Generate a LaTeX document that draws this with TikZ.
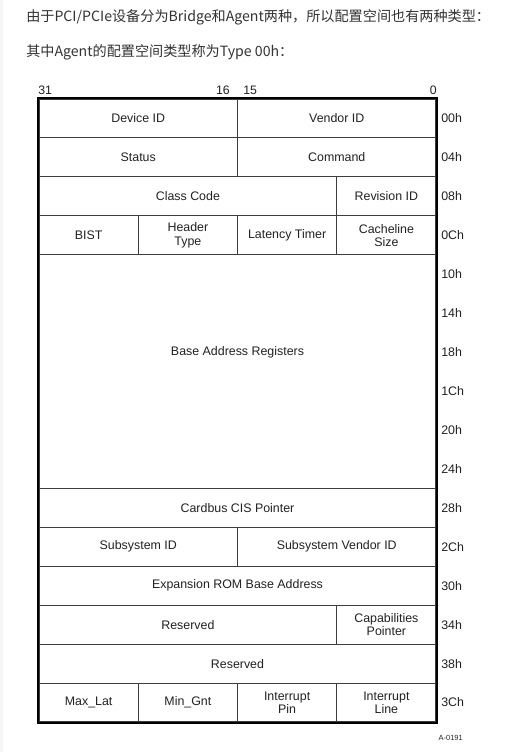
\documentclass[tikz,border=0pt]{standalone}
\usepackage{fontspec}
\setmainfont{Liberation Sans}
\newfontfamily\cjk{Noto Sans CJK SC}
\usepackage{tikz}
\usetikzlibrary{positioning,calc}
\definecolor{regtexte}{RGB}{34,34,34}
\definecolor{reggris}{RGB}{60,60,60}
\definecolor{regnote}{RGB}{51,51,51}
\definecolor{regbord}{RGB}{244,244,244}

\begin{document}
\begin{tikzpicture}[
  x=0.75pt, y=-0.75pt,
  cell/.style={rectangle, draw=reggris, line width=0.8pt, inner sep=0pt,
    minimum height=29.2pt, text=regtexte, align=center,
    font=\fontsize{9.3}{9.8}\selectfont},
  quart/.style={cell, minimum width=74.44pt},
  demi/.style={cell, minimum width=148.88pt},
  troisq/.style={cell, minimum width=223.31pt},
  plein/.style={cell, minimum width=297.75pt},
  offl/.style={anchor=west, inner sep=0pt, text=regtexte, font=\fontsize{9.3}{9.8}\selectfont},
  bitl/.style={inner sep=0pt, text=regtexte, font=\fontsize{9.2}{9.2}\selectfont},
  note/.style={anchor=west, inner sep=0pt, text=regnote, font=\cjk\fontsize{10.6}{12}\selectfont},
  cadre/.style={draw=black, line width=1.5pt}
]
  \useasboundingbox[fill=white] (0,0) rectangle (506,752);
  \fill[regbord] (0,0) rectangle (3,752);

  % texte au-dessus
  \node[note] (ligne1) at (26,17) {由于PCI/PCIe设备分为Bridge和Agent两种，所以配置空间也有两种类型：};
  \node[note] (ligne2) at (26,52) {其中Agent的配置空间类型称为Type 00h：};

  % numeros de bits
  \node[bitl, anchor=west] (b31) at (38,90)  {31};
  \node[bitl, anchor=east] (b16) at (230,90) {16};
  \node[bitl, anchor=west] (b15) at (243,90) {15};
  \node[bitl, anchor=east] (b0)  at (437,90) {0};

  % registres
  \node[demi]  (devid)  at (138.25,118.47)  {Device ID};
  \node[demi]  (venid)  at (336.75,118.47)  {Vendor ID};
  \node[demi]  (stat)   at (138.25,157.41)  {Status};
  \node[demi]  (cmd)    at (336.75,157.41)  {Command};
  \node[troisq] (class) at (187.88,196.34)  {Class Code};
  \node[quart] (rev)    at (386.38,196.34)  {Revision ID};
  \node[quart] (bist)   at (88.63,235.28)   {BIST};
  \node[quart] (htype)  at (187.88,235.28)  {Header\\Type};
  \node[quart] (lat)    at (287.13,235.28)  {Latency Timer};
  \node[quart] (cache)  at (386.38,235.28)  {Cacheline\\Size};
  \node[plein, minimum height=175.2pt] (bar) at (237.5,371.56) {};
  \node[offl, anchor=center] (bartxt) at (237.5,352) {Base Address Registers};
  \node[plein] (cis)    at (237.5,507.84)   {Cardbus CIS Pointer};
  \node[demi]  (subid)  at (138.25,546.78)  {Subsystem ID};
  \node[demi]  (subven) at (336.75,546.78)  {Subsystem Vendor ID};
  \node[plein] (rom)    at (237.5,585.72)   {Expansion ROM Base Address};
  \node[troisq] (resa)  at (187.88,624.66)  {Reserved};
  \node[quart] (cap)    at (386.38,624.66)  {Capabilities\\Pointer};
  \node[plein] (resb)   at (237.5,663.59)   {Reserved};
  \node[quart] (maxl)   at (88.63,702.53)   {Max\_Lat};
  \node[quart] (ming)   at (187.88,702.53)  {Min\_Gnt};
  \node[quart] (ipin)   at (287.13,702.53)  {Interrupt\\Pin};
  \node[quart] (iline)  at (386.38,702.53)  {Interrupt\\Line};

  \draw[cadre] (devid.north west) rectangle (iline.south east);

  % decalages
  \foreach \off [count=\i from 0] in {00h,04h,08h,0Ch,10h,14h,18h,1Ch,20h,24h,28h,2Ch,30h,34h,38h,3Ch}
    \node[offl] (off\i) at (441,{99+38.9375*(\i+0.5)}) {\off};

  \node[bitl, anchor=east, font=\fontsize{5.6}{6}\selectfont] (ref) at (463,738) {A-0191};
\end{tikzpicture}
\end{document}
